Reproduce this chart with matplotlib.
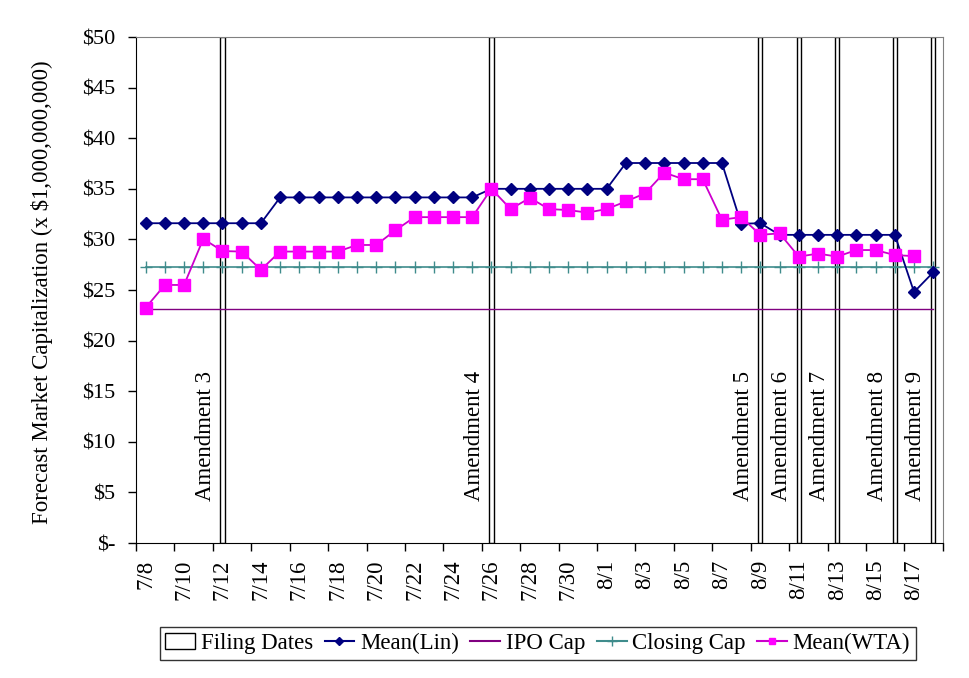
import numpy as np
import matplotlib
matplotlib.use("Agg")
import matplotlib.pyplot as plt
from matplotlib.lines import Line2D
from matplotlib.patches import Patch

plt.rcParams['font.family'] = ['Liberation Serif', 'DejaVu Serif']

# daily dates 7/8 .. 8/18
dates = ['7/%d' % d for d in range(8, 32)] + ['8/%d' % d for d in range(1, 19)]

mean_lin = [31.6] * 7 + [34.15] * 11 + [35.0] * 7 + [37.55] * 6 + \
    [31.55, 31.6] + [30.45] * 7 + [24.8, 26.75]

mean_wta = [23.25, 25.5, 25.5, 30.05, 28.85, 28.8, 27.0, 28.8, 28.8, 28.8,
            28.8, 29.45, 29.45, 30.9, 32.2, 32.2, 32.2, 32.2, 35.0, 33.0,
            34.1, 33.0, 32.9, 32.65, 33.0, 33.75, 34.55, 36.6, 35.95, 35.95,
            31.95, 32.2, 30.45, 30.6, 28.3, 28.6, 28.3, 28.95, 28.95, 28.45,
            28.35, np.nan]

ipo_cap = 23.1
closing_cap = 27.27

filing_dates = ['7/12', '7/26', '8/9', '8/11', '8/13', '8/16', '8/18']
filing_names = ['Amendment 3', 'Amendment 4', 'Amendment 5', 'Amendment 6',
                'Amendment 7', 'Amendment 8', 'Amendment 9']

x = np.arange(len(dates))
filing_x = [dates.index(d) for d in filing_dates]

fig = plt.figure(figsize=(9.69, 6.78), dpi=100)
ax = fig.add_axes([0.1404, 0.1991, 0.8326, 0.7463])

ax.bar(filing_x, [50] * len(filing_x), width=0.22, facecolor='white',
       edgecolor='black', linewidth=1.0, zorder=1)

ax.plot(x, [ipo_cap] * len(x), color='#800080', lw=1.0, zorder=2)
ax.plot(x, [closing_cap] * len(x), color='#3f8c8c', lw=1.2, marker='+',
        markersize=8, markeredgewidth=1.0, zorder=2)
ax.plot(x, mean_lin, color='#000080', lw=1.3, marker='D', markersize=6, zorder=3)
ax.plot(x, mean_wta, color='#cc00cc', lw=1.3, marker='s', markersize=8,
        markerfacecolor='#ff00ff', markeredgecolor='#ff00ff', zorder=4)

for fx, name in zip(filing_x, filing_names):
    ax.text(fx - 0.9, 4.2, name, rotation=90, ha='center', va='bottom', fontsize=16.5)

ax.set_xlim(-0.5, len(dates) - 0.5)
ax.set_ylim(0, 50)

yt = np.arange(0, 51, 5)
ax.set_yticks(yt)
ax.set_yticklabels(['$-'] + ['$%d' % v for v in yt[1:]], fontsize=16)
ax.tick_params(axis='y', direction='out', length=6, pad=9, width=1)

ax.set_xticks(np.arange(-0.5, len(dates), 2))
ax.set_xticklabels([])
ax.tick_params(axis='x', direction='out', length=6, width=1)
ax.set_xticks(x[::2], minor=True)
ax.set_xticklabels(dates[::2], minor=True, rotation=90, fontsize=16.5)
ax.tick_params(axis='x', which='minor', length=0, pad=12)

for s in ['top', 'right']:
    ax.spines[s].set_color('#808080')

fig.text(0.043, 0.569, 'Forecast Market Capitalization (x $1,000,000,000)',
         rotation=90, ha='center', va='center', fontsize=16.5)

handles = [Patch(facecolor='white', edgecolor='black'),
           Line2D([], [], color='#000080', marker='D', markersize=4),
           Line2D([], [], color='#800080'),
           Line2D([], [], color='#3f8c8c', marker='+', markersize=7),
           Line2D([], [], color='#cc00cc', marker='s', markersize=5,
                  markerfacecolor='#ff00ff', markeredgecolor='#ff00ff')]
labels = ['Filing Dates', 'Mean(Lin)', 'IPO Cap', 'Closing Cap', 'Mean(WTA)']
leg = fig.legend(handles, labels, loc='lower center', bbox_to_anchor=(0.555, 0.027),
                 ncol=5, fontsize=16.5, frameon=True, fancybox=False, edgecolor='black',
                 handlelength=1.3, handletextpad=0.25, columnspacing=0.5,
                 borderpad=0.25, borderaxespad=0)
leg.get_frame().set_linewidth(1.0)

fig.savefig('out.png', dpi=100)
